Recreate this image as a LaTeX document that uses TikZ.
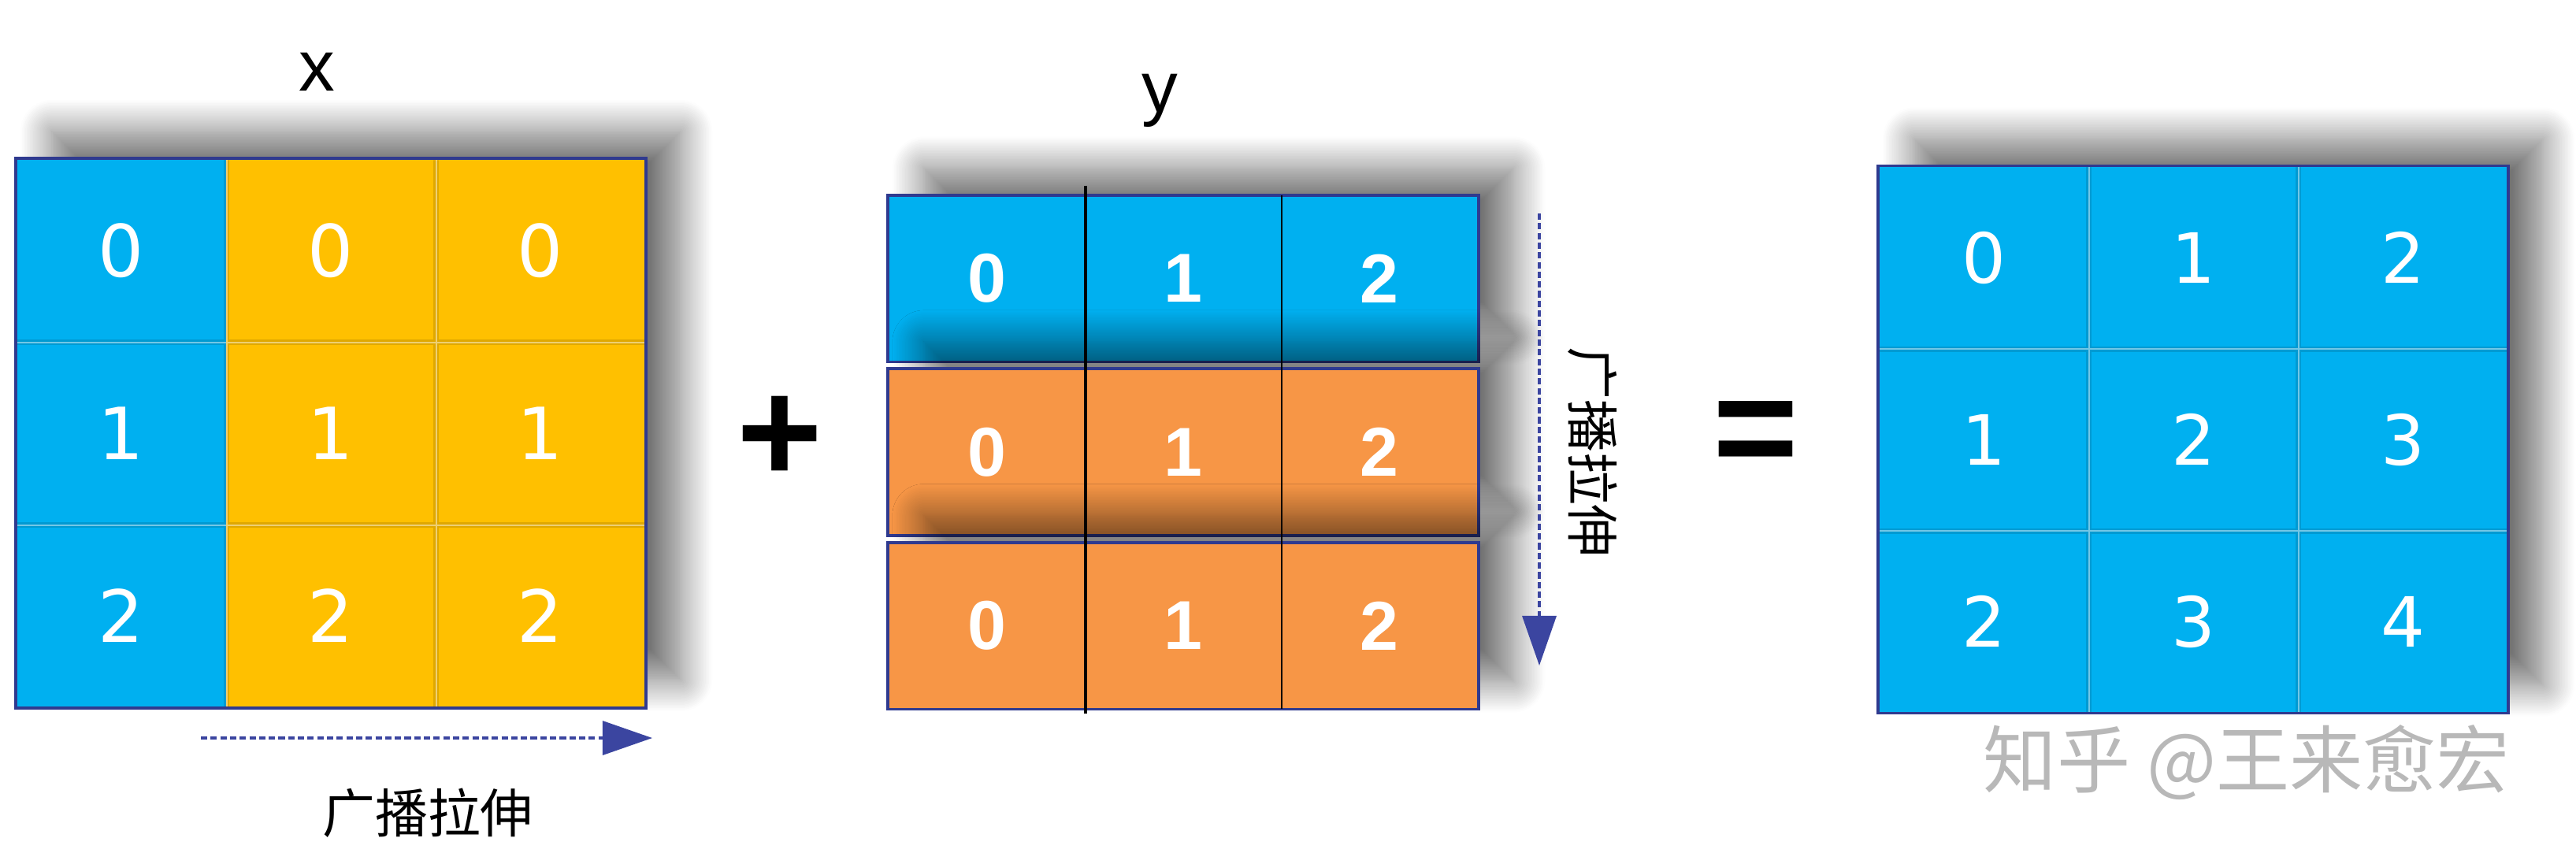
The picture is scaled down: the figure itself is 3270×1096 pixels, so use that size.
\documentclass[tikz,border=0pt]{standalone}
\usepackage{fontspec}
\setmainfont{Liberation Sans}
\newfontfamily\numfont{DejaVu Sans}
\newfontfamily\cjk{Noto Sans CJK SC}
\usetikzlibrary{arrows.meta,shadows.blur}

\definecolor{cellblue}{HTML}{00B0F0}
\definecolor{cellyellow}{HTML}{FFC000}
\definecolor{cellorange}{HTML}{F79646}
\definecolor{framenavy}{HTML}{2F3A8F}
\definecolor{arrowblue}{HTML}{3B45A0}

\tikzset{
  bigshadow/.style={blur shadow={shadow xshift=4.5mm, shadow yshift=3.5mm,
      shadow blur radius=4mm, shadow opacity=55, shadow blur steps=20}},
  mframe/.style={rectangle, inner sep=0pt},
  xcell/.style={rectangle, inner sep=0pt, minimum width=2.66cm, minimum height=2.32cm,
      text=white, font=\numfont\fontsize{26}{26}\selectfont},
  ycell/.style={rectangle, inner sep=0pt, minimum width=2.49cm, minimum height=2.10cm,
      text=white, font=\bfseries\fontsize{25}{25}\selectfont},
  scell/.style={rectangle, inner sep=0pt, minimum width=2.66cm, minimum height=2.31cm,
      text=white, font=\numfont\fontsize{25}{25}\selectfont},
  frameln/.style={framenavy, line width=1pt},
  gridln/.style={white, opacity=.45, line width=.6pt},
  groove/.style={black, opacity=.12, line width=2pt, xshift=1.5pt, yshift=1.5pt},
  sepln/.style={black, line width=1.2pt},
  bcast/.style={arrowblue, line width=.9pt, dash pattern=on 2.3pt off 1.2pt,
      -{Triangle[length=6.3mm, width=4.3mm]}},
  lbl/.style={font=\fontsize{26}{26}\selectfont, anchor=base},
  cjklbl/.style={font=\cjk\fontsize{19}{19}\selectfont},
  opsym/.style={font=\bfseries\fontsize{53}{53}\selectfont, inner sep=0pt},
  wmark/.style={text=black!28, font=\cjk\fontsize{26.5}{26.5}\selectfont}
}

\begin{document}
\begin{tikzpicture}[x=0.01cm, y=-0.01cm]
    % pixel grid, y downwards
    \useasboundingbox (0,0) rectangle (3270,1096);

    % matrix x
    \node[lbl] (xlab) at (402,115) {x};
    \node[mframe, bigshadow, fill=cellyellow, minimum width=7.98cm, minimum height=6.96cm] (xm) at (420,550) {};
    \foreach \r/\ry in {0/318,1/550,2/782}{
        \node[xcell, fill=cellblue] (x\r0) at (154,\ry) {\r};
        \node[xcell, fill=cellyellow] (x\r1) at (420,\ry) {\r};
        \node[xcell, fill=cellyellow] (x\r2) at (686,\ry) {\r};
    }
    \draw[groove] (x00.north east) -- (x20.south east) (x01.north east) -- (x21.south east)
        (x00.south west) -- (x02.south east) (x10.south west) -- (x12.south east);
    \draw[gridln] (x00.north east) -- (x20.south east) (x01.north east) -- (x21.south east)
        (x00.south west) -- (x02.south east) (x10.south west) -- (x12.south east);
    \draw[frameln] (xm.north west) rectangle (xm.south east);
    % stretch arrow under x
    \coordinate (xas) at (255,937);
    \coordinate (xae) at (828,937);
    \draw[bcast] (xas) -- (xae);
    \node[cjklbl] (xtxt) at (543,1032) {广播拉伸};

    \node[opsym] (plus) at (990,558) {+};

    % matrix y, one box per row
    \node[lbl] (ylab) at (1472,142) {y};
    \foreach \r/\ry/\col in {0/353.5/cellblue,1/574/cellorange,2/794.5/cellorange}{
        \node[mframe, bigshadow, fill=\col, minimum width=7.48cm, minimum height=2.10cm] (yr\r) at (1502,\ry) {};
        \foreach \c/\cx in {0/1252.5,1/1501.5,2/1751}
            \node[ycell] (y\r\c) at (\cx,\ry) {\c};
        \draw[frameln] (yr\r.north west) rectangle (yr\r.south east);
    }
    \draw[sepln, shorten <=-1.2mm, shorten >=-0.6mm] (y00.north east) -- (y20.south east);
    \draw[black, line width=.7pt] (y01.north east) -- (y21.south east);
    % stretch arrow beside y
    \coordinate (yas) at (1954,271);
    \coordinate (yae) at (1954,845);
    \draw[bcast] (yas) -- (yae);
    \node[cjklbl, rotate=-90] (ytxt) at (2022,574) {广播拉伸};

    \node[opsym] (eq) at (2229,558) {=};

    % result
    \node[mframe, bigshadow, fill=cellblue, minimum width=7.98cm, minimum height=6.93cm] (sm) at (2784,558) {};
    \foreach \r/\ry in {0/327,1/558,2/789}
        \foreach \c/\cx in {0/2518,1/2784,2/3050}{
            \pgfmathtruncatemacro\s{\r+\c}
            \node[scell] (s\r\c) at (\cx,\ry) {\s};
        }
    \draw[groove] (s00.north east) -- (s20.south east) (s01.north east) -- (s21.south east)
        (s00.south west) -- (s02.south east) (s10.south west) -- (s12.south east);
    \draw[gridln] (s00.north east) -- (s20.south east) (s01.north east) -- (s21.south east)
        (s00.south west) -- (s02.south east) (s10.south west) -- (s12.south east);
    \draw[frameln] (sm.north west) rectangle (sm.south east);

    \node[wmark] (wm) at (2852,968) {知乎 @王来愈宏};
\end{tikzpicture}
\end{document}
